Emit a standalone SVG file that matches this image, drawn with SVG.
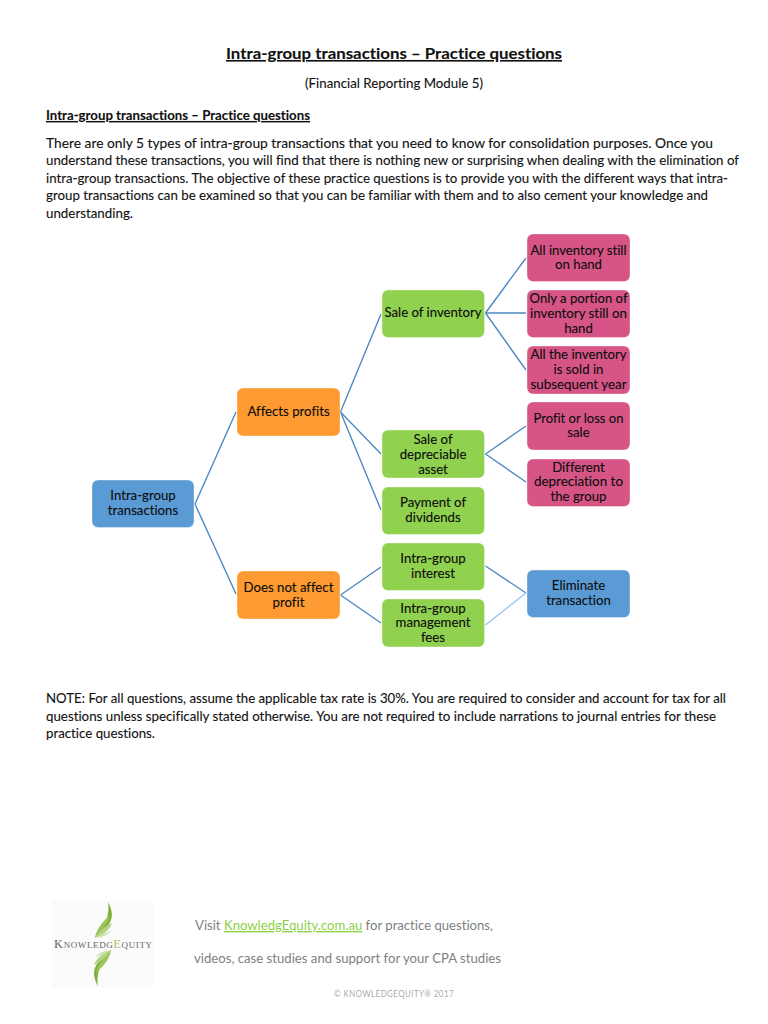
<svg xmlns="http://www.w3.org/2000/svg" xmlns:xlink="http://www.w3.org/1999/xlink" width="768" height="1024" viewBox="0 0 768 1024">
<defs>
<g id="plume">
<path fill="#7fae35" d="M108 902C114 913 114 923 101 931C106 922 110 913 108 902Z"/>
<path fill="#9cc45a" d="M110 915C109 923 102 930 95 938C96 930 102 922 110 915Z"/>
<path fill="#b5d488" d="M112 923C110 930 103 935 95 938C99 932 105 926 112 923Z"/>
<path fill="#c5dd9e" d="M111 931C107 935 102 937 97 938C101 935 106 933 111 931Z"/>
</g>
</defs>
<style>
text{font-family:"Lato","Open Sans","Liberation Sans",sans-serif;fill:#111;font-size:13.5px;font-variant-ligatures:none;stroke:#111;stroke-width:.12}
.c{text-anchor:middle;font-size:13.2px;fill:#0c0c0c}
.b{stroke:#fff;stroke-opacity:.35;stroke-width:1}
.blue{fill:#5b9bd5}.or{fill:#fd9a32}.gr{fill:#90d14f}.pk{fill:#d65586}
.l{stroke:#4f8ac4;stroke-width:1.4;fill:none}
.g{fill:#7f7f7f;stroke:none;font-size:13.2px}
.u{text-decoration:underline}
</style>
<rect width="768" height="1024" fill="#fff"/>
<g id="page-text">
<text x="394" y="59" text-anchor="middle" class="u" font-weight="700" style="font-size:15.5px" textLength="336" lengthAdjust="spacingAndGlyphs">Intra-group transactions – Practice questions</text>
<text x="394" y="88" text-anchor="middle" textLength="178" lengthAdjust="spacingAndGlyphs">(Financial Reporting Module 5)</text>
<text x="46" y="120" class="u" font-weight="700" textLength="264" lengthAdjust="spacingAndGlyphs">Intra-group transactions – Practice questions</text>
<text x="46" y="148" textLength="667" lengthAdjust="spacingAndGlyphs">There are only 5 types of intra-group transactions that you need to know for consolidation purposes. Once you</text>
<text x="46" y="165" textLength="693" lengthAdjust="spacingAndGlyphs">understand these transactions, you will find that there is nothing new or surprising when dealing with the elimination of</text>
<text x="46" y="183" textLength="682" lengthAdjust="spacingAndGlyphs">intra-group transactions. The objective of these practice questions is to provide you with the different ways that intra-</text>
<text x="46" y="200" textLength="662" lengthAdjust="spacingAndGlyphs">group transactions can be examined so that you can be familiar with them and to also cement your knowledge and</text>
<text x="46" y="218" textLength="87" lengthAdjust="spacingAndGlyphs">understanding.</text>
<text x="46" y="703" textLength="680" lengthAdjust="spacingAndGlyphs">NOTE: For all questions, assume the applicable tax rate is 30%. You are required to consider and account for tax for all</text>
<text x="46" y="721" textLength="670" lengthAdjust="spacingAndGlyphs">questions unless specifically stated otherwise. You are not required to include narrations to journal entries for these</text>
<text x="46" y="738" textLength="109" lengthAdjust="spacingAndGlyphs">practice questions.</text>
</g>
<g id="connectors">
<path class="l" d="M195 504L236 412M195 504L236 594"/>
<path class="l" d="M340.500 412L381 314M340.500 412L381 454M340.500 412L381 510"/>
<path class="l" d="M340.500 595L381 567M340.500 595L381 623"/>
<path class="l" d="M485.500 313L526 258M485.500 313L526 313M485.500 313L526 370"/>
<path class="l" d="M485.500 454L526 426M485.500 454L526 482"/>
<path class="l" d="M485.500 566L526 593"/>
<path class="l" style="stroke:#9cc4ea" d="M485.500 625L526 593"/>
</g>
<g id="n-root"><rect class="blue b" x="92" y="480" width="102" height="47.500" rx="6"/><text class="c" x="143" y="499.700">Intra-group</text><text class="c" x="143" y="514.700">transactions</text></g>
<g id="n-affects"><rect class="or b" x="237" y="388" width="103" height="48" rx="6"/><text class="c" x="288.500" y="416.400">Affects profits</text></g>
<g id="n-notaffect"><rect class="or b" x="237" y="571" width="103" height="48" rx="6"/><text class="c" x="288.500" y="591.700">Does not affect</text><text class="c" x="288.500" y="606.700">profit</text></g>
<g id="n-inventory"><rect class="gr b" x="382" y="290" width="102.500" height="47.500" rx="6"/><text class="c" x="433" y="317" textLength="97" lengthAdjust="spacingAndGlyphs">Sale of inventory</text></g>
<g id="n-asset"><rect class="gr b" x="382" y="430" width="102.500" height="48" rx="6"/><text class="c" x="433" y="443.700">Sale of</text><text class="c" x="433" y="458.700">depreciable</text><text class="c" x="433" y="473.700">asset</text></g>
<g id="n-dividends"><rect class="gr b" x="382" y="487" width="102.500" height="47.500" rx="6"/><text class="c" x="433" y="506.700">Payment of</text><text class="c" x="433" y="521.700">dividends</text></g>
<g id="n-interest"><rect class="gr b" x="382" y="543" width="102.500" height="47.500" rx="6"/><text class="c" x="433" y="562.700">Intra-group</text><text class="c" x="433" y="577.700">interest</text></g>
<g id="n-fees"><rect class="gr b" x="382" y="599" width="102.500" height="48" rx="6"/><text class="c" x="433" y="612.700">Intra-group</text><text class="c" x="433" y="627">management</text><text class="c" x="433" y="642.400">fees</text></g>
<g id="n-onhand"><rect class="pk b" x="527" y="234" width="103" height="47.500" rx="6"/><text class="c" x="578.500" y="254.500" textLength="96" lengthAdjust="spacingAndGlyphs">All inventory still</text><text class="c" x="578.500" y="269">on hand</text></g>
<g id="n-portion"><rect class="pk b" x="527" y="290" width="103" height="47.500" rx="6"/><text class="c" x="578.500" y="303" textLength="98" lengthAdjust="spacingAndGlyphs">Only a portion of</text><text class="c" x="578.500" y="318" textLength="97" lengthAdjust="spacingAndGlyphs">inventory still on</text><text class="c" x="578.500" y="332.500">hand</text></g>
<g id="n-sold"><rect class="pk b" x="527" y="346" width="103" height="48" rx="6"/><text class="c" x="578.500" y="359" textLength="96" lengthAdjust="spacingAndGlyphs">All the inventory</text><text class="c" x="578.500" y="373.700">is sold in</text><text class="c" x="578.500" y="389" textLength="96" lengthAdjust="spacingAndGlyphs">subsequent year</text></g>
<g id="n-profit"><rect class="pk b" x="527" y="402" width="103" height="48" rx="6"/><text class="c" x="578.500" y="423.400" textLength="90" lengthAdjust="spacingAndGlyphs">Profit or loss on</text><text class="c" x="578.500" y="437.400">sale</text></g>
<g id="n-dep"><rect class="pk b" x="527" y="459" width="103" height="47.500" rx="6"/><text class="c" x="578.500" y="471.500">Different</text><text class="c" x="578.500" y="486" textLength="89" lengthAdjust="spacingAndGlyphs">depreciation to</text><text class="c" x="578.500" y="501">the group</text></g>
<g id="n-elim"><rect class="blue b" x="527" y="570" width="103" height="47.500" rx="6"/><text class="c" x="578.500" y="589.700">Eliminate</text><text class="c" x="578.500" y="604.700">transaction</text></g>
<g id="footer">
<rect x="52" y="901" width="102" height="87" fill="#fbfbfb"/>
<use href="#plume" xlink:href="#plume"/>
<use href="#plume" xlink:href="#plume" transform="rotate(180 103 944)"/>
<text x="54" y="947.500" style="fill:#666;stroke:none;font-family:'Liberation Serif',serif;font-size:12.500px;font-variant:small-caps" textLength="98" lengthAdjust="spacing">Knowledg<tspan style="fill:#a4c55f">E</tspan>quity</text>
<text class="g" x="195" y="930" textLength="298" lengthAdjust="spacingAndGlyphs">Visit <tspan class="u" style="fill:#8cd048">KnowledgEquity.com.au</tspan> for practice questions,</text>
<text class="g" x="194" y="963" textLength="307" lengthAdjust="spacingAndGlyphs">videos, case studies and support for your CPA studies</text>
<text x="334" y="997" style="fill:#aaa;stroke:none;font-size:8.500px;letter-spacing:.5px" textLength="120" lengthAdjust="spacingAndGlyphs">© KNOWLEDGEQUITY® 2017</text>
</g>
</svg>
